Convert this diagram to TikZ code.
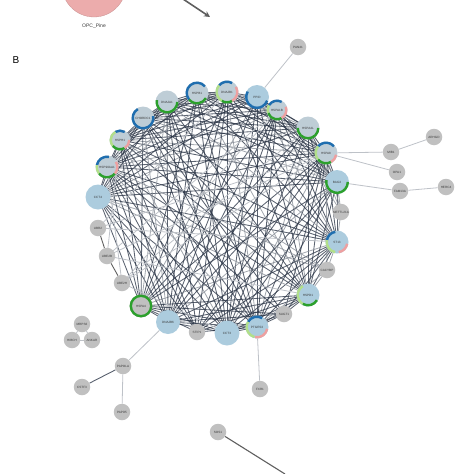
\documentclass[tikz,border=0pt]{standalone}
\usepackage{fontspec}
\setmainfont{Liberation Sans}
\usetikzlibrary{arrows.meta}
\pgfdeclarelayer{bg}
\pgfsetlayers{bg,main}
\definecolor{cblue}{RGB}{31,110,175}
\definecolor{cgreen}{RGB}{44,160,44}
\definecolor{clgreen}{RGB}{178,223,138}
\definecolor{cpink}{RGB}{238,160,160}
\definecolor{lblue}{RGB}{172,204,222}
\definecolor{rfill}{RGB}{190,205,214}
\definecolor{ngray}{RGB}{192,192,192}
\definecolor{labelc}{RGB}{55,55,55}
\definecolor{edgec}{RGB}{45,55,72}
\definecolor{ledgec}{RGB}{190,194,200}
\definecolor{pinefill}{RGB}{236,172,172}
\definecolor{arrowc}{RGB}{95,95,95}
\tikzset{
  gnode/.style={circle, fill=ngray, minimum size=16.5pt, inner sep=0pt, font=\fontsize{3.1}{3.5}\selectfont, text=labelc},
  bnode/.style={gnode, fill=lblue, minimum size=25pt},
  rnode/.style={gnode, fill=rfill, minimum size=23pt},
  hubedge/.style={draw=edgec, line width=0.85pt, opacity=0.78},
  midedge/.style={draw=edgec!55, line width=0.8pt, opacity=0.8},
  ledge/.style={draw=ledgec, line width=0.8pt},
  dedge/.style={draw=arrowc, line width=0.9pt},
}
\newcommand\myring[5]{\draw[#4, line width=2.4pt] (#1.center) ++(#2:#5) arc[start angle=#2, end angle=#3, radius=#5];}
\begin{document}
\begin{tikzpicture}[x=1pt,y=1pt]
\useasboundingbox (0,0) rectangle (474,-474);
% top part
\node[circle, fill=pinefill, draw=pinefill!85!black, line width=0.3pt, minimum size=64pt, inner sep=0pt] (pine) at (94,15) {};
\node[font=\fontsize{5}{6}\selectfont, text=labelc] (pinelabel) at (94,-26) {OPC\_Pine};
\coordinate (arrs) at (183,1);
\coordinate (arre) at (210,-17);
\draw[arrowc, line width=1.6pt, -{Stealth[length=6pt,width=6pt]}] (arrs) -- (arre);
\node[font=\fontsize{10}{12}\selectfont] (blabel) at (16,-60) {B};

% nodes
\node[gnode] (pan) at (298,-47) {PAN41};
\node[rnode, minimum size=24pt, fill=lblue] (ppid) at (257,-97) {PPID};
\node[rnode, minimum size=21pt] (hspa1b) at (277,-110) {HSPA1B};
\node[rnode] (hspa4l) at (308,-128) {HSPA4L};
\node[rnode] (hspa8) at (326,-153) {HSPA8};
\node[gnode] (mib1) at (391,-152) {MIB1};
\node[gnode] (arhgd) at (434,-137) {ARHGD};
\node[gnode] (opa1) at (397,-172) {OPA1};
\node[rnode, fill=lblue, minimum size=24pt] (bag3) at (337,-182) {BAG3};
\node[gnode] (fam13a) at (400,-191) {FAM13A};
\node[gnode] (herc4) at (446,-187) {HERC4};
\node[gnode] (mettl) at (341,-212) {METTL21A};
\node[rnode, fill=lblue] (st13) at (337,-242) {ST13};
\node[gnode] (cacybp) at (327,-270) {CACYBP};
\node[rnode, fill=lblue] (hspd1) at (308,-295) {HSPD1};
\node[gnode] (sugt1) at (284,-314) {SUGT1};
\node[rnode, fill=lblue] (ptges3) at (257,-327) {PTGES3};
\node[bnode] (cct3) at (227,-333) {CCT3};
\node[gnode] (stip1) at (197,-332) {STIP1};
\node[bnode, minimum size=24pt] (dnajb6) at (168,-322) {DNAJB6};
\node[rnode, fill=ngray] (hspa4) at (141,-306) {HSPA4};
\node[gnode] (fxr1) at (260,-389) {FXR1};
\node[gnode] (ube2h) at (122,-283) {UBE2H};
\node[gnode] (ube2b) at (107,-256) {UBE2B};
\node[gnode] (ubr2) at (98,-228) {UBR2};
\node[bnode] (cct4) at (98,-197) {CCT4};
\node[rnode] (hsp90) at (107,-167) {HSP90AA1};
\node[rnode, minimum size=21pt] (hsph1) at (120,-140) {HSPH1};
\node[rnode] (chordc1) at (143,-118) {CHORDC1};
\node[rnode] (dnaja1) at (167,-102) {DNAJA1};
\node[rnode] (hspb1) at (197,-93) {HSPB1};
\node[rnode] (dnajb1) at (227,-92) {DNAJB1};
\node[gnode] (mrps6) at (82,-324) {MRPS6};
\node[gnode] (hibch) at (72,-340) {HIBCH};
\node[gnode] (ankar) at (92,-340) {ANKAR};
\node[gnode] (papola) at (123,-366) {PAPOLA};
\node[gnode] (cstf3) at (82,-387) {CSTF3};
\node[gnode] (papd5) at (122,-412) {PAPD5};
\node[gnode] (sos1) at (218,-432) {SOS1};
\coordinate (sosend) at (285,-474);

% rings
\myring{ppid}{150}{340}{cblue}{10.8}
\myring{hspa1b}{60}{150}{cblue}{9.3}
\myring{hspa1b}{150}{200}{clgreen}{9.3}
\myring{hspa1b}{200}{300}{cgreen}{9.3}
\myring{hspa1b}{300}{380}{cpink}{9.3}
\myring{hspa4l}{180}{360}{cgreen}{10.3}
\myring{hspa8}{40}{140}{cblue}{10.3}
\myring{hspa8}{140}{220}{clgreen}{10.3}
\myring{hspa8}{220}{300}{cgreen}{10.3}
\myring{hspa8}{300}{350}{cpink}{10.3}
\myring{bag3}{170}{360}{cgreen}{10.8}
\myring{st13}{100}{170}{cblue}{10.3}
\myring{st13}{170}{260}{clgreen}{10.3}
\myring{st13}{280}{350}{cpink}{10.3}
\myring{hspd1}{120}{240}{clgreen}{10.3}
\myring{hspd1}{240}{330}{cgreen}{10.3}
\myring{ptges3}{60}{150}{cblue}{10.3}
\myring{ptges3}{150}{255}{clgreen}{10.3}
\myring{ptges3}{260}{350}{cpink}{10.3}
\myring{hspa4}{0}{360}{cgreen}{10.2}
\myring{hsp90}{80}{170}{cblue}{10.3}
\myring{hsp90}{170}{220}{clgreen}{10.3}
\myring{hsp90}{220}{320}{cgreen}{10.3}
\myring{hsp90}{320}{390}{cpink}{10.3}
\myring{hsph1}{60}{120}{cblue}{9.3}
\myring{hsph1}{120}{220}{clgreen}{9.3}
\myring{hsph1}{220}{300}{cgreen}{9.3}
\myring{hsph1}{300}{360}{cpink}{9.3}
\myring{chordc1}{120}{370}{cblue}{10.3}
\myring{dnaja1}{170}{360}{cgreen}{10.3}
\myring{hspb1}{40}{220}{cblue}{10.3}
\myring{hspb1}{220}{330}{cgreen}{10.3}
\myring{dnajb1}{60}{140}{cblue}{10.3}
\myring{dnajb1}{140}{240}{clgreen}{10.3}
\myring{dnajb1}{240}{300}{cgreen}{10.3}
\myring{dnajb1}{300}{390}{cpink}{10.3}

% edges
\begin{pgfonlayer}{bg}
\foreach \a [count=\i] in {ppid,hspa1b,hspa4l,hspa8,bag3,st13,hspd1,ptges3,cct3,dnajb6,hspa4,cct4,hsp90,hsph1,chordc1,dnaja1,hspb1,dnajb1}{
  \foreach \b [count=\j] in {ppid,hspa1b,hspa4l,hspa8,bag3,st13,hspd1,ptges3,cct3,dnajb6,hspa4,cct4,hsp90,hsph1,chordc1,dnaja1,hspb1,dnajb1}{
    \ifnum\j>\i
      \pgfmathtruncatemacro\m{mod(\i*7+\j*3,5)}
      \ifnum\m=0
        \draw[midedge] (\a.center) -- (\b.center);
      \else
        \draw[hubedge] (\a.center) -- (\b.center);
      \fi
    \fi
  }
}
\foreach \b in {hsp90,hspa8,hspa4,hsph1,hspa1b,st13,hspd1,ptges3,dnaja1,dnajb1,cct4,bag3}
  \draw[hubedge] (stip1.center) -- (\b.center);
\foreach \b in {hsp90,hspa8,hspd1,ptges3,cct3,hspa4,st13,chordc1,dnajb6}
  \draw[hubedge] (sugt1.center) -- (\b.center);
\foreach \b in {hsp90,hspd1,st13,hspa8,ptges3,hsph1,cct4}
  \draw[midedge] (cacybp.center) -- (\b.center);
\foreach \b in {hspa8,hspa1b,bag3,hspa4l,st13}
  \draw[midedge] (mettl.center) -- (\b.center);
\foreach \b in {hspa8,hspa1b,hsp90,cct3,hspa4l}
  \draw[ledge] (ube2h.center) -- (\b.center);
\foreach \b in {hspa8,hspa1b,hsph1,hspd1}
  \draw[ledge] (ube2b.center) -- (\b.center);
\foreach \b in {hspa8,dnajb1,st13}
  \draw[ledge] (ubr2.center) -- (\b.center);
\draw[dedge] (ubr2) -- (ube2b);
\draw[dedge] (ube2b) -- (ube2h);
\draw[ledge] (pan) -- (ppid);
\draw[ledge] (hspa8) -- (mib1);
\draw[ledge] (mib1) -- (arhgd);
\draw[ledge] (hspa8) -- (opa1);
\draw[ledge] (bag3) -- (fam13a);
\draw[ledge] (fam13a) -- (herc4);
\draw[ledge] (ptges3) -- (fxr1);
\draw[ledge] (papola) -- (dnajb6);
\draw[dedge, draw=edgec!80] (papola) -- (cstf3);
\draw[ledge] (papola) -- (papd5);
\draw[ledge] (mrps6) -- (hibch);
\draw[ledge] (hibch) -- (ankar);
\draw[ledge] (mrps6) -- (ankar);
\draw[dedge, line width=1.1pt] (sos1) -- (sosend);
\end{pgfonlayer}
\end{tikzpicture}
\end{document}
